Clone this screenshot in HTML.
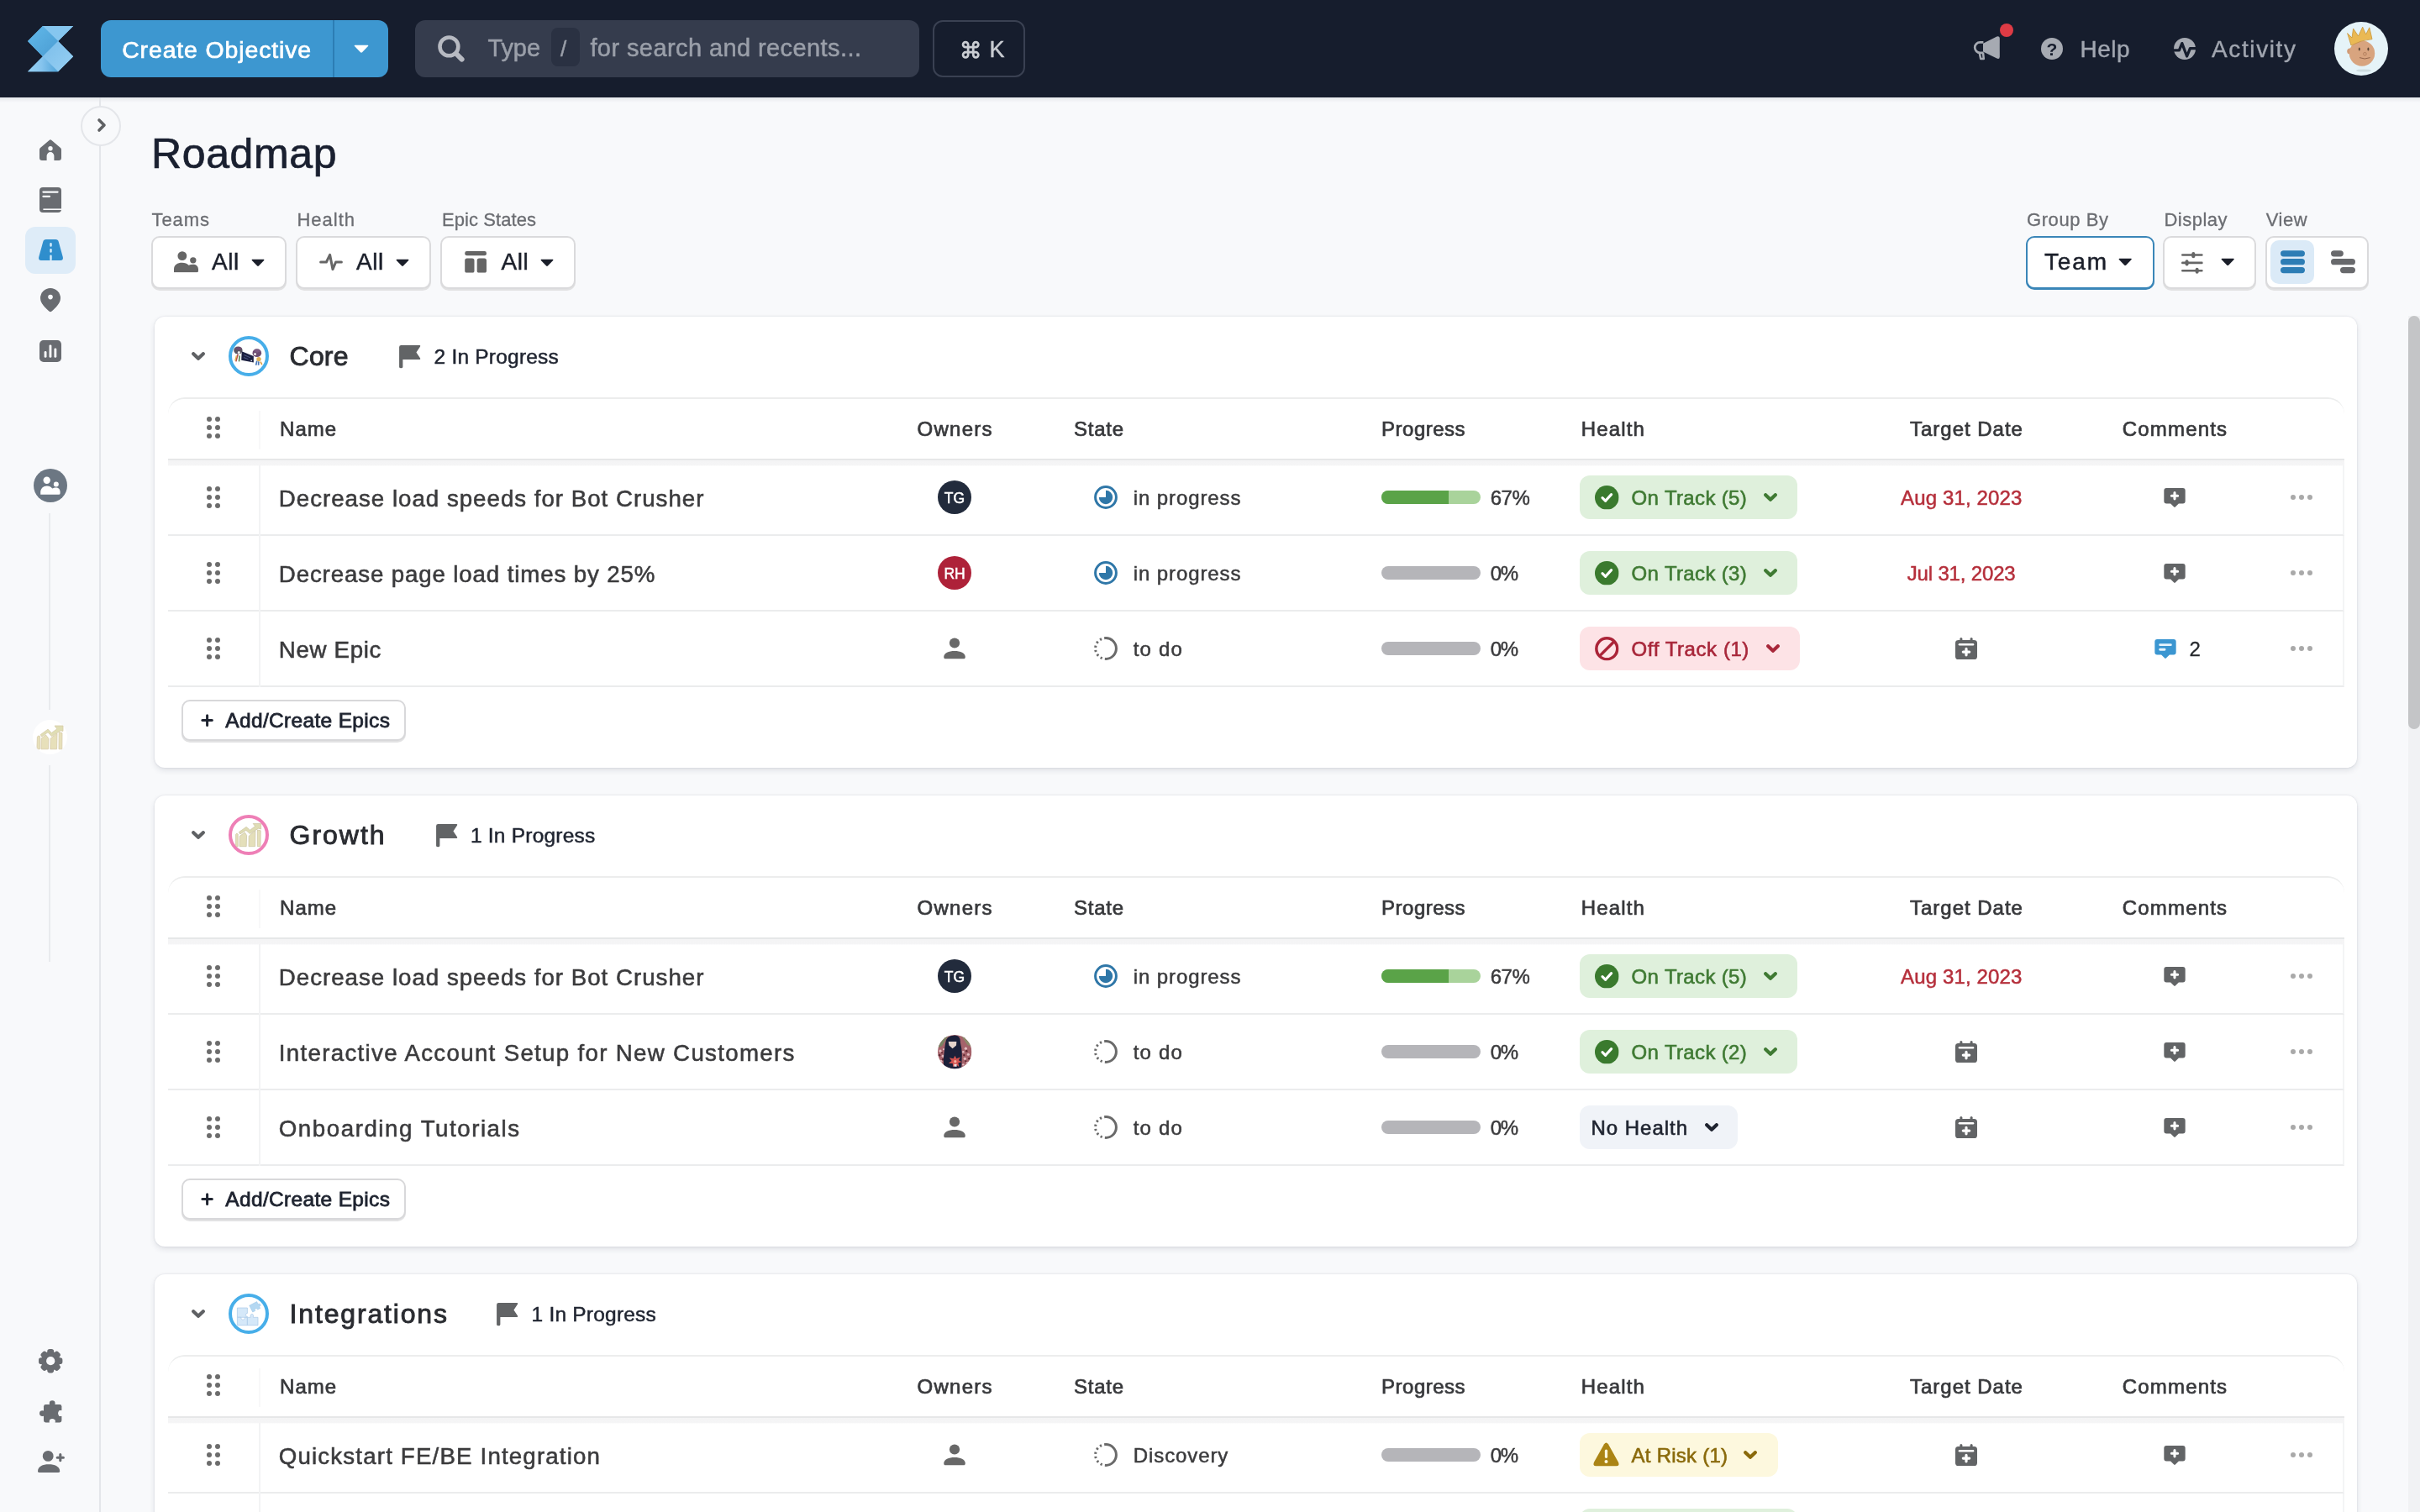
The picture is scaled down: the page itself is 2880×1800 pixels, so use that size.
<!DOCTYPE html>
<html lang="en"><head><meta charset="utf-8"><title>Roadmap | Shortcut</title>
<style>
*{box-sizing:border-box;margin:0;padding:0}
html,body{width:2880px;height:1800px;overflow:hidden;background:#f8f9fb;font-family:"Liberation Sans",sans-serif;color:#1f2430}
#root{position:absolute;left:0;top:0;width:2880px;height:1800px;overflow:hidden;will-change:transform}
.abs{position:absolute}
svg{display:block;position:absolute;overflow:visible}
.t{position:absolute;white-space:nowrap;line-height:1}
/* header */
#hdr{position:absolute;left:0;top:0;width:2880px;height:116px;background:#161d2d}
#hdrshadow{position:absolute;left:0;top:116px;width:2880px;height:6px;background:linear-gradient(#e6e8ec,rgba(248,249,251,0))}
#create{position:absolute;left:120px;top:24px;width:342px;height:68px;border-radius:12px;background:#3d97d0}
#create .div{position:absolute;left:276px;top:0;width:2px;height:68px;background:#2c7db4}
#search{position:absolute;left:494px;top:24px;width:600px;height:68px;border-radius:12px;background:#353c4d}
#slash{position:absolute;left:162px;top:9px;width:34px;height:46px;border-radius:8px;background:#2a3142}
#kbtn{position:absolute;left:1110px;top:24px;width:110px;height:68px;border-radius:12px;border:2px solid #3a4152}
/* sidebar */
#sideline{position:absolute;left:118px;top:116px;width:2px;height:1684px;background:#e4e6ea}
#navact{position:absolute;left:30px;top:270px;width:60px;height:56px;border-radius:12px;background:#deecf8}
#collapse{position:absolute;left:96px;top:126px;width:48px;height:48px;border-radius:50%;background:#f8f9fb;border:2px solid #e4e6ea}
.vline{position:absolute;left:58px;width:2px;background:#e9ebee}
/* filter buttons */
.fbtn{position:absolute;top:280.5px;height:63.3px;border-radius:10px;background:#fff;border:2px solid #dadadc;box-shadow:0 2px 0 #e1e1e2}
.fbtn.sel{border-color:#3a86b8;box-shadow:0 1px 0 #3a86b8}
/* cards */
.card{position:absolute;left:184px;width:2621px;height:537.5px;border-radius:12px;background:#fff;box-shadow:0 3px 7px rgba(40,50,70,.12),0 0 2.5px rgba(40,50,70,.12)}
.cin{position:absolute;left:0;top:0.5px}
.tbl{position:absolute;left:16px;top:96px;width:2590px}
.thead{position:absolute;left:0;top:0;width:2590px;height:75px;border-top:2px solid #eceded;border-radius:20px 20px 0 0}
.thshadow{position:absolute;left:0;top:73px;width:2590px;height:9px;background:linear-gradient(#e6e7e8 0,#e6e7e8 2.2px,#f4f4f5 2.2px,#f5f5f6 7.6px,rgba(255,255,255,0) 9px)}
.row{position:absolute;left:0;width:2590px;height:90px;border-bottom:2px solid #ebeced;border-right:2px solid #f3f4f5}
.vsep{position:absolute;left:108px;top:0;width:2px;background:#f2f3f4}
.addbtn{position:absolute;left:32px;top:456.2px;width:267px;height:48.6px;border-radius:10px;background:#fff;border:2px solid #d8d8da;box-shadow:0 2px 0 #e2e2e3}
.pill{position:absolute;left:1680px;top:19px;height:52px;border-radius:12px}
.pill.g{background:#dff0dc}
.pill.r{background:#fde3e6}
.pill.y{background:#fdf8de}
.pill.n{background:#f0f3f8}
.bar{position:absolute;left:1443px;top:38px;width:118px;height:16px;border-radius:8px;background:#b5b5b9;overflow:hidden}
.bar i{position:absolute;left:0;top:0;height:16px;background:#5aa348}
.bar.g{background:#a9d39b}
.av{position:absolute;left:915px;top:25px;width:40px;height:40px;border-radius:50%}
</style></head>
<body>
<div id="root">
<svg width="0" height="0" style="position:absolute;left:-10px;top:-10px">
<defs>
<linearGradient id="lgB" x1="0" y1="0" x2="1" y2="1"><stop offset="0" stop-color="#62b9ea"/><stop offset="1" stop-color="#4a9cd2"/></linearGradient>
<linearGradient id="lgD" x1="0" y1="0" x2="1" y2="0"><stop offset="0" stop-color="#96d0f3"/><stop offset=".45" stop-color="#86c4ee"/><stop offset="1" stop-color="#4fa3d8"/></linearGradient>
<linearGradient id="lgC" x1="0" y1="0" x2="1" y2="1"><stop offset="0" stop-color="#7bbdea"/><stop offset="1" stop-color="#97d0f3"/></linearGradient>
<!-- drag handle 16x26 -->
<symbol id="drag" viewBox="0 0 16 26"><g fill="#6c6c6c"><circle cx="3" cy="3" r="3"/><circle cx="13" cy="3" r="3"/><circle cx="3" cy="13" r="3"/><circle cx="13" cy="13" r="3"/><circle cx="3" cy="23" r="3"/><circle cx="13" cy="23" r="3"/></g></symbol>
<!-- ellipsis 26x6 -->
<symbol id="dots" viewBox="0 0 26 6"><g fill="#a9a9a9"><circle cx="3" cy="3" r="3"/><circle cx="13" cy="3" r="3"/><circle cx="23" cy="3" r="3"/></g></symbol>
<!-- chevron down 16x10 -->
<symbol id="chev" viewBox="0 0 16 10"><path d="M2.2 2.2 L8 7.8 L13.8 2.2" fill="none" stroke="currentColor" stroke-width="4.2" stroke-linecap="round" stroke-linejoin="round"/></symbol>
<!-- caret (triangle) 16x9 -->
<symbol id="caret" viewBox="0 0 16 9"><path d="M1.2 0.6 H14.8 Q16 0.8 15.2 1.9 L8.9 8.4 Q8 9.2 7.1 8.4 L0.8 1.9 Q0 0.8 1.2 0.6Z" fill="currentColor"/></symbol>
<!-- in progress state 28x28 -->
<symbol id="inprog" viewBox="0 0 28 28"><circle cx="14" cy="14" r="12.4" fill="#fff" stroke="#2f77a8" stroke-width="3"/><path d="M14 14 V5.8 A8.2 8.2 0 1 1 5.8 14 Z" fill="#2f77a8"/></symbol>
<!-- to do state 28x28 -->
<symbol id="todo" viewBox="0 0 28 28"><path d="M14 1.6 A12.4 12.4 0 0 1 14 26.4" fill="none" stroke="#6a6a6a" stroke-width="3" stroke-linecap="butt"/><path d="M14 26.4 A12.4 12.4 0 0 1 14 1.6" fill="none" stroke="#6a6a6a" stroke-width="3" stroke-dasharray="2.2 3.2" stroke-dashoffset="1"/></symbol>
<!-- person 26x26 -->
<symbol id="person" viewBox="0 0 26 26"><circle cx="13" cy="6.6" r="6.2" fill="#686868"/><path d="M0 23.4 C0 18.6 6 16.2 13 16.2 s13 2.4 13 7.2 Q26 26 23.4 26 H2.6 Q0 26 0 23.4Z" fill="#686868"/></symbol>
<!-- check circle 28x28 -->
<symbol id="check" viewBox="0 0 28 28"><circle cx="14" cy="14" r="14" fill="#3a7a2e"/><path d="M8.8 14.4 L12.4 17.9 L19.2 10.4" fill="none" stroke="#fff" stroke-width="3.1" stroke-linecap="round" stroke-linejoin="round"/></symbol>
<!-- ban 28x28 -->
<symbol id="ban" viewBox="0 0 28 28"><circle cx="14" cy="14" r="12.2" fill="none" stroke="#ab2438" stroke-width="3.4"/><path d="M5.6 22.4 L22.4 5.6" stroke="#ab2438" stroke-width="3.4"/></symbol>
<!-- warning 30x28 -->
<symbol id="warn" viewBox="0 0 30 28"><path d="M12.6 2.2 Q15 -1.4 17.4 2.2 L29.2 23.2 Q31 27.6 26.6 27.8 H3.4 Q-1 27.6 0.8 23.2 Z" fill="#ab8414"/><rect x="13.4" y="8.4" width="3.2" height="10.2" rx="1.6" fill="#fdf8de"/><circle cx="15" cy="22.6" r="2" fill="#fdf8de"/></symbol>
<!-- comment plus 26x24 -->
<symbol id="cplus" viewBox="0 0 26 24"><path d="M3 0 H23 a3 3 0 0 1 3 3 V16 a3 3 0 0 1 -3 3 H18 L13.8 23.2 Q13 24 12.2 23.2 L8 19 H3 a3 3 0 0 1 -3 -3 V3 a3 3 0 0 1 3 -3 Z" fill="#626466"/><path d="M13 5.8 V13.2 M9.3 9.5 H16.7" stroke="#fff" stroke-width="3.2" stroke-linecap="round"/></symbol>
<!-- comment lines (blue) 26x24 -->
<symbol id="clines" viewBox="0 0 26 24"><path d="M3 0 H23 a3 3 0 0 1 3 3 V16 a3 3 0 0 1 -3 3 H18 L13.8 23.2 Q13 24 12.2 23.2 L8 19 H3 a3 3 0 0 1 -3 -3 V3 a3 3 0 0 1 3 -3 Z" fill="#3b96d1"/><path d="M6.5 6.8 H19.5 M6.5 12.6 H12" stroke="#e6f4fd" stroke-width="3" stroke-linecap="round"/></symbol>
<!-- calendar plus 26x26 -->
<symbol id="cal" viewBox="0 0 26 26"><rect x="5.4" y="0" width="3" height="6" rx="1.5" fill="#626466"/><rect x="17.6" y="0" width="3" height="6" rx="1.5" fill="#626466"/><rect x="0" y="3" width="26" height="23" rx="3.6" fill="#626466"/><path d="M5 8.2 H21" stroke="#fff" stroke-width="2.6" stroke-linecap="round"/><path d="M13 13.4 V20.8 M9.3 17.1 H16.7" stroke="#fff" stroke-width="3.2" stroke-linecap="round"/></symbol>
<!-- flag 26x28 -->
<symbol id="flag" viewBox="0 0 26 28"><path d="M0 2.4 Q0 0 2.4 0 H24.6 Q26.6 0 25.4 1.8 L20.8 8.6 L25.4 15.6 Q26.6 17.4 24.6 17.4 H4.4 V26.4 Q4.4 28 2.2 28 Q0 28 0 26.4 Z" fill="#626466"/></symbol>
<!-- people (teams filter) 30x26 -->
<symbol id="people" viewBox="0 0 30 26"><circle cx="10.2" cy="5.6" r="5.6" fill="#666"/><circle cx="23.6" cy="11" r="3.8" fill="#666"/><path d="M0 26 V22 C0 16.6 4.4 14 10 14 c3.6 0 6.4 1 8.2 3 C19.6 16.4 21.4 16 23.4 16 C27.2 16 30 18 30 22 V24 a2 2 0 0 1 -2 2 Z" fill="#666"/></symbol>
<!-- pulse 28x22 -->
<symbol id="pulse" viewBox="0 0 28 22"><path d="M1.6 11 H8.4 L12.6 2.4 L16 19.6 L19.6 11 H26.4" fill="none" stroke="#666" stroke-width="3" stroke-linecap="round" stroke-linejoin="round"/></symbol>
<!-- columns 26x26 -->
<symbol id="cols" viewBox="0 0 26 26"><rect x="0" y="0" width="26" height="5.4" rx="2.4" fill="#666"/><rect x="0" y="8.6" width="11.4" height="17.4" rx="2.6" fill="#666"/><rect x="14.6" y="8.6" width="11.4" height="17.4" rx="2.6" fill="#666"/></symbol>
<!-- sliders 26x26 -->
<symbol id="sliders" viewBox="0 0 26 26"><g stroke="#666" stroke-width="2.6" stroke-linecap="round"><path d="M1.3 3.6 H24.7 M1.3 13 H24.7 M1.3 22.4 H24.7"/></g><g fill="#666"><rect x="12.4" y="0" width="4" height="7.2" rx="2"/><rect x="4.6" y="9.4" width="4" height="7.2" rx="2"/><rect x="16.8" y="18.8" width="4" height="7.2" rx="2"/></g></symbol>
<!-- list view 30x30 -->
<symbol id="vlist" viewBox="0 0 30 30"><g fill="#2d7db5"><rect x="0" y="1" width="30" height="7.6" rx="3.8"/><rect x="0" y="11.2" width="30" height="7.6" rx="3.8"/><rect x="0" y="21.4" width="30" height="7.6" rx="3.8"/></g></symbol>
<!-- timeline view 30x30 -->
<symbol id="vtime" viewBox="0 0 30 30"><g fill="#68696c"><rect x="0" y="1" width="15.4" height="7.6" rx="3.8"/><rect x="0" y="11.2" width="30" height="7.6" rx="3.8"/><rect x="11.4" y="21.4" width="18.6" height="7.6" rx="3.8"/></g></symbol>
</defs>
</svg>
<div id="hdr"><svg style="left:32.6px;top:30.8px" width="54.2" height="54.2" viewBox="0 0 54 54"><polygon points="17.8,0 54,0 36,18 54,36 36,54 0,54 17.8,36 0,18" fill="#6fb8e8"/><polygon points="17.8,0 54,0 36,18" fill="#86c6ef"/><polygon points="17.8,0 0,18 17.8,36 36,18" fill="url(#lgB)"/><polygon points="36,18 17.8,36 36,54 54,36" fill="url(#lgC)"/><polygon points="17.8,36 0,54 36,54" fill="url(#lgD)"/></svg><div id="create"><div class="div"></div><svg style="left:301.0px;top:28.6px;color:#fff;" width="18" height="10"><use href="#caret"/></svg></div><div class="t " style="left:145.2px;top:45.4px;font-size:28.4px;color:#fff;letter-spacing:0.90px;-webkit-text-stroke:0.7px #fff;">Create Objective</div><div id="search"><div id="slash"></div><svg style="left:27.4px;top:17.6px" width="33" height="33" viewBox="0 0 33 33"><circle cx="13.4" cy="13.4" r="10.9" fill="none" stroke="#b7bac2" stroke-width="4.6"/><path d="M22 22 L28.6 28.6" stroke="#b7bac2" stroke-width="6" stroke-linecap="round"/></svg></div><div class="t " style="left:580.5px;top:43.0px;font-size:29px;color:#9a9fa9;letter-spacing:-0.12px;-webkit-text-stroke:0.5px #9a9fa9;">Type</div><div class="t " style="left:667.0px;top:44.5px;font-size:26px;color:#9a9fa9;-webkit-text-stroke:0.5px #9a9fa9;">/</div><div class="t " style="left:702.4px;top:43.0px;font-size:29px;color:#9a9fa9;letter-spacing:0.41px;-webkit-text-stroke:0.5px #9a9fa9;">for search and recents...</div><div id="kbtn"></div><svg style="left:1143.2px;top:46.8px" width="24.4" height="24.4" viewBox="0 0 24 24"><path d="M9 9 V6 a3 3 0 1 0 -3 3 H18 a3 3 0 1 0 -3 -3 V18 a3 3 0 1 0 3 -3 H6 a3 3 0 1 0 3 3 Z" fill="none" stroke="#c9ccd2" stroke-width="2.7"/></svg><div class="t " style="left:1177.4px;top:45.7px;font-size:27px;color:#c9ccd2;-webkit-text-stroke:0.4px #c9ccd2;">K</div><svg style="left:2348.6px;top:43.4px" width="31.4" height="29" viewBox="0 0 31.4 29"><path d="M11 8.8 L27.4 0.6 Q30.8 -0.8 30.8 2.8 V24.4 Q30.8 28 27.4 26.6 L11 18.6 Z" fill="#a6aab2"/><path d="M11.4 7.4 H7.4 A6.1 6.1 0 0 0 7.4 19.8 H11.4" fill="none" stroke="#a6aab2" stroke-width="2.7"/><path d="M6.6 19.6 L8.2 27 H11.8 L11 19.6" fill="none" stroke="#a6aab2" stroke-width="2.5" stroke-linejoin="round"/></svg><div class="abs" style="left:2380px;top:28px;width:16.4px;height:16.4px;border-radius:50%;background:#de3b45"></div><svg style="left:2429px;top:44.8px" width="26" height="26" viewBox="0 0 26 26"><circle cx="13" cy="13" r="13" fill="#a6aab2"/><text x="13" y="20.6" text-anchor="middle" font-family="Liberation Sans, sans-serif" font-weight="bold" font-size="21" fill="#161d2d">?</text></svg><div class="t " style="left:2475.6px;top:44.9px;font-size:28px;color:#a1a6b0;letter-spacing:0.47px;-webkit-text-stroke:0.4px #a1a6b0;">Help</div><svg style="left:2587px;top:44.8px" width="26" height="26" viewBox="0 0 26 26"><circle cx="13" cy="13" r="13" fill="#a6aab2"/><path d="M-0.5 14.8 H6.4 L9.8 6.6 L15.6 22 L19.4 12.6 H26.5" fill="none" stroke="#161d2d" stroke-width="3.3" stroke-linejoin="round"/></svg><div class="t " style="left:2632.0px;top:44.6px;font-size:28px;color:#a1a6b0;letter-spacing:1.62px;-webkit-text-stroke:0.4px #a1a6b0;">Activity</div><svg style="left:2778px;top:25.6px" width="64" height="64" viewBox="0 0 64 64"><circle cx="32" cy="32" r="32" fill="#e5f3f8"/><ellipse cx="35" cy="58" rx="9" ry="1.6" fill="#cddcdf"/><circle cx="18.6" cy="35" r="3.4" fill="#d09a76"/><ellipse cx="33" cy="37.6" rx="15.2" ry="15.2" fill="#d8a47f"/><path d="M20 28 L15.6 13.6 L21 19 L22.6 8 L28.6 17 L33.7 6.2 L37.6 15 L41.8 6.8 L45 20.6 Q32 21.6 20 28 Z" fill="#eab954" stroke="#c9953a" stroke-width="0.8" stroke-linejoin="round"/><ellipse cx="29.8" cy="32.6" rx="1" ry="2" fill="#5a4334"/><ellipse cx="40.4" cy="32.4" rx="1" ry="2" fill="#5a4334"/><circle cx="36.4" cy="38.2" r="1.8" fill="none" stroke="#a87453" stroke-width="0.8"/><path d="M30 42.6 Q36 45.4 42.6 42.6" fill="none" stroke="#8c5e44" stroke-width="0.9"/></svg></div><div id="hdrshadow"></div><div id="sideline"></div><div id="navact"></div><div class="vline" style="top:611px;height:234px"></div><div class="vline" style="top:911px;height:234px"></div><div id="collapse"></div><svg style="left:115.6px;top:141.4px" width="10" height="16" viewBox="0 0 10 16"><path d="M2 2 L8 8 L2 14" fill="none" stroke="#5f6164" stroke-width="3.6" stroke-linecap="round" stroke-linejoin="round"/></svg><svg style="left:47px;top:165.8px" width="26" height="25.2" viewBox="0 0 26 25"><path d="M11.6 0.8 Q13 -0.4 14.4 0.8 L25 10 Q26 11 26 12.4 V22 a3 3 0 0 1 -3 3 H17.4 V19.4 a4.4 4.4 0 0 0 -8.8 0 V25 H3 a3 3 0 0 1 -3 -3 V12.4 Q0 11 1 10 Z" fill="#696c71"/><circle cx="13" cy="10.6" r="2.7" fill="#f8f9fb"/></svg><svg style="left:47px;top:223px" width="26" height="30" viewBox="0 0 26 30"><rect x="0" y="0" width="26" height="30" rx="4" fill="#696c71"/><path d="M4.4 5.6 H21.6 M4.4 10.8 H12" stroke="#f8f9fb" stroke-width="2.2" stroke-linecap="round"/><path d="M26 26.2 H4.4" stroke="#f8f9fb" stroke-width="1.6"/></svg><svg style="left:45.6px;top:284.8px" width="29" height="25.2" viewBox="0 0 29 25"><path d="M8.8 0 H20.2 Q23 0 23.8 2.8 L28.8 21 Q29.6 25 26 25 H3 Q-0.6 25 0.2 21 L5.2 2.8 Q6 0 8.8 0Z" fill="#2f8ecd"/><g fill="#d6edfb"><rect x="13.3" y="4" width="2.4" height="4.6" rx="1.2"/><rect x="13.3" y="11" width="2.4" height="4.6" rx="1.2"/><rect x="13.3" y="18.4" width="2.4" height="6.6" rx="1.2"/></g></svg><svg style="left:48px;top:343px" width="24" height="28.4" viewBox="0 0 24 28.4"><path d="M12 0 A12 12 0 0 1 24 12 C24 18 18 23.6 13.6 27.6 Q12 29 10.4 27.6 C6 23.6 0 18 0 12 A12 12 0 0 1 12 0Z" fill="#696c71"/><circle cx="12" cy="10.6" r="2.8" fill="#f8f9fb"/></svg><svg style="left:47px;top:405px" width="26" height="26" viewBox="0 0 26 26"><rect width="26" height="26" rx="4.8" fill="#696c71"/><g fill="#f8f9fb"><rect x="5.6" y="13" width="2.9" height="7.8" rx="1.4"/><rect x="11.5" y="5.4" width="2.9" height="15.4" rx="1.4"/><rect x="17.4" y="9.4" width="2.9" height="11.4" rx="1.4"/></g></svg><svg style="left:40px;top:557.8px" width="40" height="40" viewBox="0 0 40 40"><circle cx="20" cy="20" r="20" fill="#6c7783"/><g fill="#fff"><circle cx="15.7" cy="13.8" r="4.2"/><circle cx="26.8" cy="18.6" r="3"/><path d="M8.2 30.8 V28 C8.2 23.4 11.6 20.4 15.8 20.4 c2.8 0 5 1.2 6.4 3.2 C23.4 22.8 25 22.4 26.6 22.4 C29.4 22.4 31.6 24.2 31.6 27.6 V29.2 a1.6 1.6 0 0 1 -1.6 1.6 Z"/></g></svg><svg style="left:39px;top:857px" width="41" height="41" viewBox="0 0 41 41"><circle cx="20.5" cy="20.5" r="20.5" fill="#fff"/><g fill="#e7e0ba" stroke="#d7cca9" stroke-width="0.8" stroke-linejoin="round"><path d="M5.4 20.4 Q5.6 19 7.4 19 L8.6 19.6 V34.8 H6.2 Q5 34 5 32 Z"/><path d="M10.2 22 L15.4 17.8 L19 22.4 L18.4 34.8 H10 Z"/><path d="M21.2 22 L29 16.2 L28.6 34.8 H20.8 Z"/><path d="M31.2 14.6 L35 15.6 L34.8 34.8 H31 Z"/><path d="M9.2 17.6 L18 11.2 L22.4 15.4 L28.8 10.8 L26 7 H36 V13.4 L33.2 12.8 L22.6 19.6 L18 14.8 L10.6 20 Z" fill="#e0deb4"/></g></svg><svg style="left:45.8px;top:1605.8px" width="28.4" height="28.4" viewBox="-14.2 -14.2 28.4 28.4"><g fill="#696c71"><circle r="11.3"/><rect x="-3.9" y="-14.2" width="7.8" height="8" rx="2.8" transform="rotate(0)"/><rect x="-3.9" y="-14.2" width="7.8" height="8" rx="2.8" transform="rotate(45)"/><rect x="-3.9" y="-14.2" width="7.8" height="8" rx="2.8" transform="rotate(90)"/><rect x="-3.9" y="-14.2" width="7.8" height="8" rx="2.8" transform="rotate(135)"/><rect x="-3.9" y="-14.2" width="7.8" height="8" rx="2.8" transform="rotate(180)"/><rect x="-3.9" y="-14.2" width="7.8" height="8" rx="2.8" transform="rotate(225)"/><rect x="-3.9" y="-14.2" width="7.8" height="8" rx="2.8" transform="rotate(270)"/><rect x="-3.9" y="-14.2" width="7.8" height="8" rx="2.8" transform="rotate(315)"/></g><circle r="5.1" fill="#f8f9fb"/></svg><svg style="left:47px;top:1666.8px" width="26.4" height="26.4" viewBox="0 0 26.4 26.4"><g fill="#696c71"><rect x="5" y="5" width="21.4" height="21.4" rx="2.4"/><circle cx="15.2" cy="3.6" r="3.4"/><rect x="12.6" y="2.6" width="5.2" height="4"/><circle cx="3.4" cy="15.6" r="3.4"/><rect x="2.6" y="13" width="4" height="5.2"/></g><g fill="#f8f9fb"><circle cx="25.6" cy="15.6" r="3.5"/><rect x="23" y="12.4" width="3.4" height="6.4"/><circle cx="15.2" cy="25.4" r="3.5"/><rect x="12" y="23" width="6.4" height="3.4"/></g></svg><svg style="left:44.6px;top:1727px" width="32" height="26" viewBox="0 0 32 26"><g fill="#696c71"><circle cx="12.2" cy="6.4" r="6.4"/><path d="M0 24.4 C0 18.8 5.8 16.2 13 16.2 S26.2 18.8 26.2 24.4 Q26.2 26 24.2 26 H2 Q0 26 0 24.4Z"/></g><path d="M26.8 4.6 V11.8 M23.2 8.2 H30.4" stroke="#696c71" stroke-width="3.1" stroke-linecap="round"/></svg><div class="t " style="left:180.0px;top:157.9px;font-size:50px;color:#1a2030;letter-spacing:0.63px;-webkit-text-stroke:0.7px #1a2030;">Roadmap</div><div class="t " style="left:180.5px;top:250.6px;font-size:22px;color:#6b6d72;letter-spacing:0.93px;-webkit-text-stroke:0.3px #6b6d72;">Teams</div><div class="t " style="left:353.5px;top:250.6px;font-size:22px;color:#6b6d72;letter-spacing:0.98px;-webkit-text-stroke:0.3px #6b6d72;">Health</div><div class="t " style="left:526.0px;top:250.6px;font-size:22px;color:#6b6d72;letter-spacing:0.07px;-webkit-text-stroke:0.3px #6b6d72;">Epic States</div><div class="t " style="left:2412.0px;top:251.4px;font-size:22px;color:#6b6d72;letter-spacing:0.58px;-webkit-text-stroke:0.3px #6b6d72;">Group By</div><div class="t " style="left:2575.5px;top:251.4px;font-size:22px;color:#6b6d72;letter-spacing:0.48px;-webkit-text-stroke:0.3px #6b6d72;">Display</div><div class="t " style="left:2696.7px;top:251.4px;font-size:22px;color:#6b6d72;letter-spacing:0.57px;-webkit-text-stroke:0.3px #6b6d72;">View</div><div class="fbtn" style="left:180.2px;width:161px"></div><div class="fbtn" style="left:352.4px;width:161px"></div><div class="fbtn" style="left:524.4px;width:161px"></div><svg style="left:207.0px;top:299.0px;" width="29" height="25.6"><use href="#people"/></svg><svg style="left:380.0px;top:301.0px;" width="28" height="22"><use href="#pulse"/></svg><svg style="left:552.8px;top:299.0px;" width="26.2" height="25.8"><use href="#cols"/></svg><div class="t " style="left:252.0px;top:297.8px;font-size:28px;color:#1b1f2a;letter-spacing:0.54px;-webkit-text-stroke:0.5px #1b1f2a;">All</div><div class="t " style="left:424.0px;top:297.8px;font-size:28px;color:#1b1f2a;letter-spacing:0.54px;-webkit-text-stroke:0.5px #1b1f2a;">All</div><div class="t " style="left:596.6px;top:297.8px;font-size:28px;color:#1b1f2a;letter-spacing:0.54px;-webkit-text-stroke:0.5px #1b1f2a;">All</div><svg style="left:299.0px;top:307.6px;color:#1b1f2a;" width="16" height="9.2"><use href="#caret"/></svg><svg style="left:471.0px;top:307.6px;color:#1b1f2a;" width="16" height="9.2"><use href="#caret"/></svg><svg style="left:643.0px;top:307.6px;color:#1b1f2a;" width="16" height="9.2"><use href="#caret"/></svg><div class="fbtn sel" style="left:2410.8px;width:153px"></div><div class="t " style="left:2433.0px;top:297.5px;font-size:28px;color:#1b1f2a;letter-spacing:1.84px;-webkit-text-stroke:0.5px #1b1f2a;">Team</div><svg style="left:2521.0px;top:307.2px;color:#1b1f2a;" width="16.4" height="9.4"><use href="#caret"/></svg><div class="fbtn" style="left:2574.2px;width:111.2px"></div><svg style="left:2596.0px;top:298.6px;" width="25.8" height="27.8"><use href="#sliders"/></svg><svg style="left:2643.0px;top:307.2px;color:#1b1f2a;" width="16.4" height="9.4"><use href="#caret"/></svg><div class="fbtn" style="left:2696px;width:123.4px"></div><div class="abs" style="left:2702px;top:286.4px;width:52px;height:52px;border-radius:10px;background:#dbeaf7"></div><svg style="left:2713.6px;top:297.4px;" width="29" height="29.4"><use href="#vlist"/></svg><svg style="left:2773.6px;top:297.4px;" width="29" height="29.4"><use href="#vtime"/></svg><div class="abs" style="left:2866px;top:376px;width:14px;height:1424px;background:#f1f2f4"></div><div class="abs" style="left:2866px;top:376px;width:14px;height:492px;background:#c4c5c7;border-radius:7px"></div><div class="card" style="top:376.5px"><div class="cin"><svg style="left:44.0px;top:42.2px;color:#5f6164;" width="16" height="10"><use href="#chev"/></svg><svg style="left:88px;top:22.6px" width="48" height="48" viewBox="0 0 48 48"><circle cx="24" cy="24" r="22" fill="#fff" stroke="#47aee9" stroke-width="4"/><ellipse cx="11.4" cy="17" rx="5.2" ry="4.5" fill="#5a5561"/><path d="M7.4 15.4 Q11 11.4 15.8 14.4 L13 17 Z" fill="#6f4a70"/><ellipse cx="33.8" cy="20.2" rx="5.3" ry="4.9" fill="#6c4c70"/><path d="M30 17.6 Q34 14 38.6 18 L34 20 Z" fill="#7d5a82"/><polygon points="15.7,18.2 29.8,24 29.8,31.6 15.2,28.8" fill="#1c2141"/><circle cx="12.3" cy="19.5" r="1.5" fill="#f1efee"/><circle cx="31.5" cy="21.5" r="1.5" fill="#f1efee"/><path d="M11 22 L8.8 30.4" stroke="#b9524c" stroke-width="1.7"/><path d="M9.4 23.4 L7.8 29.4" stroke="#e2b244" stroke-width="1.3"/><path d="M13.2 23.4 L12.5 30.4" stroke="#5f8a58" stroke-width="1.7"/><circle cx="36" cy="27.6" r="2.7" fill="#e0b152"/><path d="M33.8 29.6 L32.6 34.8 M35.8 30.4 L35.6 34.8" stroke="#4a78b8" stroke-width="1.7"/><path d="M38 30.6 L39.8 34.2" stroke="#d99a3a" stroke-width="1.5"/><path d="M18.4 22.6 L26 25.8 M18 25.6 L23.4 27.6" stroke="#55618f" stroke-width="0.9"/><circle cx="27.2" cy="29.4" r="0.8" fill="#dfe6f5"/></svg><div class="t " style="left:160.6px;top:30.9px;font-size:32px;color:#2a2c31;letter-spacing:0.18px;-webkit-text-stroke:0.9px #2a2c31;">Core</div><svg style="left:291.4px;top:34.2px;" width="25.6" height="27.4"><use href="#flag"/></svg><div class="t " style="left:332.6px;top:35.5px;font-size:24.5px;color:#1f2430;letter-spacing:0.21px;-webkit-text-stroke:0.5px #1f2430;">2 In Progress</div><div class="tbl"><div class="thead"></div><div class="row" style="top:75px"></div><div class="row" style="top:165px"></div><div class="row" style="top:255px"></div><div class="vsep" style="top:75px;height:270px"></div><div class="vsep" style="top:16px;height:46px;background:#f8f8f9"></div><div class="thshadow"></div></div><svg style="left:62.0px;top:119.0px;" width="16" height="26"><use href="#drag"/></svg><div class="t " style="left:149.0px;top:121.5px;font-size:24px;color:#37383b;letter-spacing:1.06px;-webkit-text-stroke:0.7px #37383b;">Name</div><div class="t " style="left:907.5px;top:121.5px;font-size:24px;color:#37383b;letter-spacing:1.26px;-webkit-text-stroke:0.7px #37383b;">Owners</div><div class="t " style="left:1094.0px;top:121.5px;font-size:24px;color:#37383b;letter-spacing:0.74px;-webkit-text-stroke:0.7px #37383b;">State</div><div class="t " style="left:1460.0px;top:121.5px;font-size:24px;color:#37383b;letter-spacing:0.51px;-webkit-text-stroke:0.7px #37383b;">Progress</div><div class="t " style="left:1697.7px;top:121.5px;font-size:24px;color:#37383b;letter-spacing:1.16px;-webkit-text-stroke:0.7px #37383b;">Health</div><div class="t " style="left:2089.0px;top:121.5px;font-size:24px;color:#37383b;letter-spacing:0.99px;-webkit-text-stroke:0.7px #37383b;">Target Date</div><div class="t " style="left:2341.8px;top:121.5px;font-size:24px;color:#37383b;letter-spacing:1.17px;-webkit-text-stroke:0.7px #37383b;">Comments</div><svg style="left:62.0px;top:202.0px;" width="16" height="26"><use href="#drag"/></svg><div class="t " style="left:147.8px;top:202.5px;font-size:27.7px;color:#3b3b3d;letter-spacing:0.99px;-webkit-text-stroke:0.55px #3b3b3d;">Decrease load speeds for Bot Crusher</div><div class="abs" style="left:931.8px;top:194.8px;width:40.4px;height:40.4px;border-radius:50%;background:#222b3c"></div><div class="t " style="left:939.8px;top:207.6px;font-size:17.5px;color:#fff;-webkit-text-stroke:0.5px #fff;">TG</div><svg style="left:1118.0px;top:201.0px;" width="28" height="28"><use href="#inprog"/></svg><div class="t " style="left:1164.8px;top:203.7px;font-size:24px;color:#3b3b3d;letter-spacing:0.89px;-webkit-text-stroke:0.5px #3b3b3d;">in progress</div><div class="bar g" style="left:1460.2px;top:206.8px"><i style="width:79.5px"></i></div><div class="t " style="left:1589.8px;top:204.1px;font-size:24px;color:#3b3b3d;letter-spacing:-0.52px;-webkit-text-stroke:0.5px #3b3b3d;">67%</div><div class="pill g" style="left:1696px;top:189px;width:259px"></div><svg style="left:1713.6px;top:200.8px;" width="28.6" height="28.6"><use href="#check"/></svg><div class="t " style="left:1757.6px;top:203.7px;font-size:24px;color:#3f7a33;letter-spacing:0.35px;-webkit-text-stroke:0.6px #3f7a33;">On Track (5)</div><svg style="left:1915.0px;top:210.4px;color:#3f7a33;" width="16" height="10"><use href="#chev"/></svg><div class="t " style="left:2078.0px;top:203.7px;font-size:24px;color:#b52f3b;letter-spacing:0.15px;-webkit-text-stroke:0.5px #b52f3b;">Aug 31, 2023</div><svg style="left:2391.4px;top:203.6px;" width="26" height="23.4"><use href="#cplus"/></svg><svg style="left:2542.0px;top:212.0px;" width="26" height="6"><use href="#dots"/></svg><svg style="left:62.0px;top:292.0px;" width="16" height="26"><use href="#drag"/></svg><div class="t " style="left:147.8px;top:292.5px;font-size:27.7px;color:#3b3b3d;letter-spacing:0.86px;-webkit-text-stroke:0.55px #3b3b3d;">Decrease page load times by 25%</div><div class="abs" style="left:931.8px;top:284.8px;width:40.4px;height:40.4px;border-radius:50%;background:#ae2239"></div><div class="t " style="left:939.4px;top:297.6px;font-size:17.5px;color:#fff;-webkit-text-stroke:0.5px #fff;">RH</div><svg style="left:1118.0px;top:291.0px;" width="28" height="28"><use href="#inprog"/></svg><div class="t " style="left:1164.8px;top:293.7px;font-size:24px;color:#3b3b3d;letter-spacing:0.89px;-webkit-text-stroke:0.5px #3b3b3d;">in progress</div><div class="bar" style="left:1460.2px;top:296.8px"></div><div class="t " style="left:1589.8px;top:294.1px;font-size:24px;color:#3b3b3d;letter-spacing:-1.29px;-webkit-text-stroke:0.5px #3b3b3d;">0%</div><div class="pill g" style="left:1696px;top:279px;width:259px"></div><svg style="left:1713.6px;top:290.8px;" width="28.6" height="28.6"><use href="#check"/></svg><div class="t " style="left:1757.6px;top:293.7px;font-size:24px;color:#3f7a33;letter-spacing:0.35px;-webkit-text-stroke:0.6px #3f7a33;">On Track (3)</div><svg style="left:1915.0px;top:300.4px;color:#3f7a33;" width="16" height="10"><use href="#chev"/></svg><div class="t " style="left:2085.7px;top:293.7px;font-size:24px;color:#b52f3b;letter-spacing:-0.16px;-webkit-text-stroke:0.5px #b52f3b;">Jul 31, 2023</div><svg style="left:2391.4px;top:293.6px;" width="26" height="23.4"><use href="#cplus"/></svg><svg style="left:2542.0px;top:302.0px;" width="26" height="6"><use href="#dots"/></svg><svg style="left:62.0px;top:382.0px;" width="16" height="26"><use href="#drag"/></svg><div class="t " style="left:147.8px;top:382.5px;font-size:27.7px;color:#3b3b3d;letter-spacing:0.66px;-webkit-text-stroke:0.55px #3b3b3d;">New Epic</div><svg style="left:939.0px;top:382.4px;" width="26" height="25.6"><use href="#person"/></svg><svg style="left:1118.0px;top:381.0px;" width="28" height="28"><use href="#todo"/></svg><div class="t " style="left:1164.8px;top:383.7px;font-size:24px;color:#3b3b3d;letter-spacing:1.15px;-webkit-text-stroke:0.5px #3b3b3d;">to do</div><div class="bar" style="left:1460.2px;top:386.8px"></div><div class="t " style="left:1589.8px;top:384.1px;font-size:24px;color:#3b3b3d;letter-spacing:-1.29px;-webkit-text-stroke:0.5px #3b3b3d;">0%</div><div class="pill r" style="left:1696px;top:369px;width:262px"></div><svg style="left:1713.6px;top:380.8px;" width="28.6" height="28.6"><use href="#ban"/></svg><div class="t " style="left:1757.6px;top:383.7px;font-size:24px;color:#a8273a;letter-spacing:0.57px;-webkit-text-stroke:0.6px #a8273a;">Off Track (1)</div><svg style="left:1918.0px;top:390.4px;color:#a8273a;" width="16" height="10"><use href="#chev"/></svg><svg style="left:2143.0px;top:382.0px;" width="26" height="26"><use href="#cal"/></svg><svg style="left:2380.0px;top:383.6px;" width="26" height="23.4"><use href="#clines"/></svg><div class="t " style="left:2421.5px;top:383.9px;font-size:24px;color:#26282c;-webkit-text-stroke:0.3px #26282c;">2</div><svg style="left:2542.0px;top:392.0px;" width="26" height="6"><use href="#dots"/></svg><div class="addbtn"></div><svg style="left:56.4px;top:474.2px" width="13.2" height="13.2" viewBox="0 0 13.2 13.2"><path d="M6.6 0.8 V12.4 M0.8 6.6 H12.4" stroke="#1f2430" stroke-width="3" stroke-linecap="round"/></svg><div class="t " style="left:84.3px;top:468.9px;font-size:24.5px;color:#1f2430;letter-spacing:0.33px;-webkit-text-stroke:0.8px #1f2430;">Add/Create Epics</div></div></div><div class="card" style="top:946.5px"><div class="cin"><svg style="left:44.0px;top:42.2px;color:#5f6164;" width="16" height="10"><use href="#chev"/></svg><svg style="left:88px;top:22.6px" width="48" height="48" viewBox="0 0 48 48"><circle cx="24" cy="24" r="22" fill="#fff" stroke="#ee7fb6" stroke-width="4"/><defs><clipPath id="cpg"><circle cx="24" cy="24" r="20.2"/></clipPath></defs><g clip-path="url(#cpg)" fill="#e4dfba" stroke="#cbc4a2" stroke-width="0.7" stroke-linejoin="round"><path d="M8.6 23.4 Q8.8 22.2 10.4 22.4 L11.2 23 V37.7 H8.6 Z"/><path d="M13.2 25.4 L19.3 21 L21.6 24.4 L21.2 37.7 H13 Z"/><path d="M24.2 25.2 L31.9 18.9 L31.6 37.7 H24 Z"/><path d="M34.4 18 L38.2 18.8 L38 37.7 H34.4 Z"/><path d="M12.4 20.6 L21.1 14.4 L25.6 18.2 L31.6 13.6 L29.2 10.5 H38.6 V17 L35.6 16.2 L25.4 22.6 L20.8 18.4 L13.8 23 Z" fill="#dfdcb4"/></g></svg><div class="t " style="left:160.6px;top:30.9px;font-size:32px;color:#2a2c31;letter-spacing:1.97px;-webkit-text-stroke:0.9px #2a2c31;">Growth</div><svg style="left:334.8px;top:34.2px;" width="25.6" height="27.4"><use href="#flag"/></svg><div class="t " style="left:376.0px;top:35.5px;font-size:24.5px;color:#1f2430;letter-spacing:0.21px;-webkit-text-stroke:0.5px #1f2430;">1 In Progress</div><div class="tbl"><div class="thead"></div><div class="row" style="top:75px"></div><div class="row" style="top:165px"></div><div class="row" style="top:255px"></div><div class="vsep" style="top:75px;height:270px"></div><div class="vsep" style="top:16px;height:46px;background:#f8f8f9"></div><div class="thshadow"></div></div><svg style="left:62.0px;top:119.0px;" width="16" height="26"><use href="#drag"/></svg><div class="t " style="left:149.0px;top:121.5px;font-size:24px;color:#37383b;letter-spacing:1.06px;-webkit-text-stroke:0.7px #37383b;">Name</div><div class="t " style="left:907.5px;top:121.5px;font-size:24px;color:#37383b;letter-spacing:1.26px;-webkit-text-stroke:0.7px #37383b;">Owners</div><div class="t " style="left:1094.0px;top:121.5px;font-size:24px;color:#37383b;letter-spacing:0.74px;-webkit-text-stroke:0.7px #37383b;">State</div><div class="t " style="left:1460.0px;top:121.5px;font-size:24px;color:#37383b;letter-spacing:0.51px;-webkit-text-stroke:0.7px #37383b;">Progress</div><div class="t " style="left:1697.7px;top:121.5px;font-size:24px;color:#37383b;letter-spacing:1.16px;-webkit-text-stroke:0.7px #37383b;">Health</div><div class="t " style="left:2089.0px;top:121.5px;font-size:24px;color:#37383b;letter-spacing:0.99px;-webkit-text-stroke:0.7px #37383b;">Target Date</div><div class="t " style="left:2341.8px;top:121.5px;font-size:24px;color:#37383b;letter-spacing:1.17px;-webkit-text-stroke:0.7px #37383b;">Comments</div><svg style="left:62.0px;top:202.0px;" width="16" height="26"><use href="#drag"/></svg><div class="t " style="left:147.8px;top:202.5px;font-size:27.7px;color:#3b3b3d;letter-spacing:0.99px;-webkit-text-stroke:0.55px #3b3b3d;">Decrease load speeds for Bot Crusher</div><div class="abs" style="left:931.8px;top:194.8px;width:40.4px;height:40.4px;border-radius:50%;background:#222b3c"></div><div class="t " style="left:939.8px;top:207.6px;font-size:17.5px;color:#fff;-webkit-text-stroke:0.5px #fff;">TG</div><svg style="left:1118.0px;top:201.0px;" width="28" height="28"><use href="#inprog"/></svg><div class="t " style="left:1164.8px;top:203.7px;font-size:24px;color:#3b3b3d;letter-spacing:0.89px;-webkit-text-stroke:0.5px #3b3b3d;">in progress</div><div class="bar g" style="left:1460.2px;top:206.8px"><i style="width:79.5px"></i></div><div class="t " style="left:1589.8px;top:204.1px;font-size:24px;color:#3b3b3d;letter-spacing:-0.52px;-webkit-text-stroke:0.5px #3b3b3d;">67%</div><div class="pill g" style="left:1696px;top:189px;width:259px"></div><svg style="left:1713.6px;top:200.8px;" width="28.6" height="28.6"><use href="#check"/></svg><div class="t " style="left:1757.6px;top:203.7px;font-size:24px;color:#3f7a33;letter-spacing:0.35px;-webkit-text-stroke:0.6px #3f7a33;">On Track (5)</div><svg style="left:1915.0px;top:210.4px;color:#3f7a33;" width="16" height="10"><use href="#chev"/></svg><div class="t " style="left:2078.0px;top:203.7px;font-size:24px;color:#b52f3b;letter-spacing:0.15px;-webkit-text-stroke:0.5px #b52f3b;">Aug 31, 2023</div><svg style="left:2391.4px;top:203.6px;" width="26" height="23.4"><use href="#cplus"/></svg><svg style="left:2542.0px;top:212.0px;" width="26" height="6"><use href="#dots"/></svg><svg style="left:62.0px;top:292.0px;" width="16" height="26"><use href="#drag"/></svg><div class="t " style="left:147.8px;top:292.5px;font-size:27.7px;color:#3b3b3d;letter-spacing:1.31px;-webkit-text-stroke:0.55px #3b3b3d;">Interactive Account Setup for New Customers</div><svg style="left:931.8px;top:284.8px" width="40.4" height="40.4" viewBox="0 0 40 40"><defs><clipPath id="cpa"><circle cx="20" cy="20" r="20"/></clipPath></defs><g clip-path="url(#cpa)"><rect width="40" height="40" fill="#a5636b"/><path d="M0 0 H13 L5 13 L0 15 Z" fill="#7a8463"/><path d="M40 0 H27 L35 12 L40 14 Z" fill="#8b8a6a"/><g fill="#e3bcc0"><circle cx="3" cy="19" r="1.6"/><circle cx="6" cy="25" r="1.4"/><circle cx="4" cy="31" r="1.5"/><circle cx="33" cy="16" r="1.6"/><circle cx="36" cy="23" r="1.5"/><circle cx="32" cy="28" r="1.6"/><circle cx="35" cy="33" r="1.4"/><circle cx="30" cy="20" r="1.2"/><circle cx="7" cy="17" r="1.1"/><circle cx="30" cy="35" r="1.2"/></g><g fill="#5d2630"><circle cx="2" cy="24" r="1.3"/><circle cx="6" cy="29" r="1.2"/><circle cx="34" cy="19" r="1.2"/><circle cx="37" cy="28" r="1.3"/><circle cx="31" cy="24" r="1.1"/><circle cx="33" cy="31" r="1.1"/><circle cx="5" cy="21" r="1"/></g><path d="M20 0.6 Q27 1 26.6 9 Q29 18 28.4 26 L28 40 H7 L6.8 28 Q8 16 9 10 Q9.6 1 20 0.6 Z" fill="#1b2039"/><path d="M12.4 7.2 H22.2 L21.8 12.4 L17.4 16 L13.4 12.4 Z" fill="#e6d4cb"/><path d="M11.6 5 H23 V8 H11.6 Z" fill="#1b2039"/><path d="M20.4 24.4 L22 28 L26.6 26.2 L24.6 30 L28.4 32 L24.2 33 L25 37.6 L21.2 34.6 L18 38 L17.6 33.6 L12.6 33.4 L16.4 30.6 L13.6 27 L18.4 28 Z" fill="#d3524f"/><circle cx="20.6" cy="31.4" r="1.6" fill="#f0b0a0"/><rect x="19.2" y="34.4" width="3.2" height="3" fill="#f3dfe0"/></g></svg><svg style="left:1118.0px;top:291.0px;" width="28" height="28"><use href="#todo"/></svg><div class="t " style="left:1164.8px;top:293.7px;font-size:24px;color:#3b3b3d;letter-spacing:1.15px;-webkit-text-stroke:0.5px #3b3b3d;">to do</div><div class="bar" style="left:1460.2px;top:296.8px"></div><div class="t " style="left:1589.8px;top:294.1px;font-size:24px;color:#3b3b3d;letter-spacing:-1.29px;-webkit-text-stroke:0.5px #3b3b3d;">0%</div><div class="pill g" style="left:1696px;top:279px;width:259px"></div><svg style="left:1713.6px;top:290.8px;" width="28.6" height="28.6"><use href="#check"/></svg><div class="t " style="left:1757.6px;top:293.7px;font-size:24px;color:#3f7a33;letter-spacing:0.35px;-webkit-text-stroke:0.6px #3f7a33;">On Track (2)</div><svg style="left:1915.0px;top:300.4px;color:#3f7a33;" width="16" height="10"><use href="#chev"/></svg><svg style="left:2143.0px;top:292.0px;" width="26" height="26"><use href="#cal"/></svg><svg style="left:2391.4px;top:293.6px;" width="26" height="23.4"><use href="#cplus"/></svg><svg style="left:2542.0px;top:302.0px;" width="26" height="6"><use href="#dots"/></svg><svg style="left:62.0px;top:382.0px;" width="16" height="26"><use href="#drag"/></svg><div class="t " style="left:147.8px;top:382.5px;font-size:27.7px;color:#3b3b3d;letter-spacing:1.54px;-webkit-text-stroke:0.55px #3b3b3d;">Onboarding Tutorials</div><svg style="left:939.0px;top:382.4px;" width="26" height="25.6"><use href="#person"/></svg><svg style="left:1118.0px;top:381.0px;" width="28" height="28"><use href="#todo"/></svg><div class="t " style="left:1164.8px;top:383.7px;font-size:24px;color:#3b3b3d;letter-spacing:1.15px;-webkit-text-stroke:0.5px #3b3b3d;">to do</div><div class="bar" style="left:1460.2px;top:386.8px"></div><div class="t " style="left:1589.8px;top:384.1px;font-size:24px;color:#3b3b3d;letter-spacing:-1.29px;-webkit-text-stroke:0.5px #3b3b3d;">0%</div><div class="pill n" style="left:1696px;top:369px;width:188px"></div><div class="t " style="left:1709.5px;top:383.7px;font-size:24px;color:#1f2430;letter-spacing:0.98px;-webkit-text-stroke:0.6px #1f2430;">No Health</div><svg style="left:1844.6px;top:390.4px;color:#1f2430;" width="16" height="10"><use href="#chev"/></svg><svg style="left:2143.0px;top:382.0px;" width="26" height="26"><use href="#cal"/></svg><svg style="left:2391.4px;top:383.6px;" width="26" height="23.4"><use href="#cplus"/></svg><svg style="left:2542.0px;top:392.0px;" width="26" height="6"><use href="#dots"/></svg><div class="addbtn"></div><svg style="left:56.4px;top:474.2px" width="13.2" height="13.2" viewBox="0 0 13.2 13.2"><path d="M6.6 0.8 V12.4 M0.8 6.6 H12.4" stroke="#1f2430" stroke-width="3" stroke-linecap="round"/></svg><div class="t " style="left:84.3px;top:468.9px;font-size:24.5px;color:#1f2430;letter-spacing:0.33px;-webkit-text-stroke:0.8px #1f2430;">Add/Create Epics</div></div></div><div class="card" style="top:1516.5px"><div class="cin"><svg style="left:44.0px;top:42.2px;color:#5f6164;" width="16" height="10"><use href="#chev"/></svg><svg style="left:88px;top:22.6px" width="48" height="48" viewBox="0 0 48 48"><circle cx="24" cy="24" r="22" fill="#fff" stroke="#47aee9" stroke-width="4"/><g fill="#d5e8f9" stroke="#a9c9e8" stroke-width="0.7" stroke-linejoin="round"><path d="M10.4 17 H22.4 V23.4 a2 2 0 1 0 0 4 V28.3 H10.4 Z"/><path d="M10.4 28.3 H15 a2.2 2.2 0 1 0 4.2 0 H22.4 V37.7 H10.4 Z"/><path d="M22.4 28.3 H26.2 V26.6 a1.7 1.7 0 1 1 3.2 0 V28.3 H35 V37.7 H22.4 Z"/></g><path d="M-5 -4.4 H5 V-1 a1.6 1.6 0 1 1 0 3 V4.4 H1.4 a1.6 1.6 0 1 0 -3 0 H-5 Z" fill="#b4d8f2" stroke="#9cc6e8" stroke-width="0.5" transform="translate(31.2 15.8) rotate(-27)"/></svg><div class="t " style="left:160.6px;top:30.9px;font-size:32px;color:#2a2c31;letter-spacing:1.83px;-webkit-text-stroke:0.9px #2a2c31;">Integrations</div><svg style="left:407.4px;top:34.2px;" width="25.6" height="27.4"><use href="#flag"/></svg><div class="t " style="left:448.6px;top:35.5px;font-size:24.5px;color:#1f2430;letter-spacing:0.21px;-webkit-text-stroke:0.5px #1f2430;">1 In Progress</div><div class="tbl"><div class="thead"></div><div class="row" style="top:75px"></div><div class="row" style="top:165px"></div><div class="vsep" style="top:75px;height:180px"></div><div class="vsep" style="top:16px;height:46px;background:#f8f8f9"></div><div class="thshadow"></div></div><svg style="left:62.0px;top:119.0px;" width="16" height="26"><use href="#drag"/></svg><div class="t " style="left:149.0px;top:121.5px;font-size:24px;color:#37383b;letter-spacing:1.06px;-webkit-text-stroke:0.7px #37383b;">Name</div><div class="t " style="left:907.5px;top:121.5px;font-size:24px;color:#37383b;letter-spacing:1.26px;-webkit-text-stroke:0.7px #37383b;">Owners</div><div class="t " style="left:1094.0px;top:121.5px;font-size:24px;color:#37383b;letter-spacing:0.74px;-webkit-text-stroke:0.7px #37383b;">State</div><div class="t " style="left:1460.0px;top:121.5px;font-size:24px;color:#37383b;letter-spacing:0.51px;-webkit-text-stroke:0.7px #37383b;">Progress</div><div class="t " style="left:1697.7px;top:121.5px;font-size:24px;color:#37383b;letter-spacing:1.16px;-webkit-text-stroke:0.7px #37383b;">Health</div><div class="t " style="left:2089.0px;top:121.5px;font-size:24px;color:#37383b;letter-spacing:0.99px;-webkit-text-stroke:0.7px #37383b;">Target Date</div><div class="t " style="left:2341.8px;top:121.5px;font-size:24px;color:#37383b;letter-spacing:1.17px;-webkit-text-stroke:0.7px #37383b;">Comments</div><svg style="left:62.0px;top:202.0px;" width="16" height="26"><use href="#drag"/></svg><div class="t " style="left:147.8px;top:202.5px;font-size:27.7px;color:#3b3b3d;letter-spacing:1.16px;-webkit-text-stroke:0.55px #3b3b3d;">Quickstart FE/BE Integration</div><svg style="left:939.0px;top:202.4px;" width="26" height="25.6"><use href="#person"/></svg><svg style="left:1118.0px;top:201.0px;" width="28" height="28"><use href="#todo"/></svg><div class="t " style="left:1164.8px;top:203.7px;font-size:24px;color:#3b3b3d;letter-spacing:0.89px;-webkit-text-stroke:0.5px #3b3b3d;">Discovery</div><div class="bar" style="left:1460.2px;top:206.8px"></div><div class="t " style="left:1589.8px;top:204.1px;font-size:24px;color:#3b3b3d;letter-spacing:-1.29px;-webkit-text-stroke:0.5px #3b3b3d;">0%</div><div class="pill y" style="left:1696px;top:189px;width:236px"></div><svg style="left:1712.4px;top:199.8px;" width="31" height="28.6"><use href="#warn"/></svg><div class="t " style="left:1757.6px;top:203.7px;font-size:24px;color:#8a6a0c;letter-spacing:0.24px;-webkit-text-stroke:0.6px #8a6a0c;">At Risk (1)</div><svg style="left:1891.0px;top:210.4px;color:#8a6a0c;" width="16" height="10"><use href="#chev"/></svg><svg style="left:2143.0px;top:202.0px;" width="26" height="26"><use href="#cal"/></svg><svg style="left:2391.4px;top:203.6px;" width="26" height="23.4"><use href="#cplus"/></svg><svg style="left:2542.0px;top:212.0px;" width="26" height="6"><use href="#dots"/></svg><svg style="left:62.0px;top:292.0px;" width="16" height="26"><use href="#drag"/></svg><div class="t " style="left:147.8px;top:292.5px;font-size:27.7px;color:#3b3b3d;-webkit-text-stroke:0.55px #3b3b3d;"></div><svg style="left:939.0px;top:292.4px;" width="26" height="25.6"><use href="#person"/></svg><svg style="left:1118.0px;top:291.0px;" width="28" height="28"><use href="#todo"/></svg><div class="t " style="left:1164.8px;top:293.7px;font-size:24px;color:#3b3b3d;letter-spacing:1.15px;-webkit-text-stroke:0.5px #3b3b3d;">to do</div><div class="bar" style="left:1460.2px;top:296.8px"></div><div class="t " style="left:1589.8px;top:294.1px;font-size:24px;color:#3b3b3d;letter-spacing:-1.29px;-webkit-text-stroke:0.5px #3b3b3d;">0%</div><div class="pill g" style="left:1696px;top:279px;width:259px"></div><svg style="left:1713.6px;top:290.8px;" width="28.6" height="28.6"><use href="#check"/></svg><div class="t " style="left:1757.6px;top:293.7px;font-size:24px;color:#3f7a33;-webkit-text-stroke:0.6px #3f7a33;"></div><svg style="left:1915.0px;top:300.4px;color:#3f7a33;" width="16" height="10"><use href="#chev"/></svg><svg style="left:2143.0px;top:292.0px;" width="26" height="26"><use href="#cal"/></svg><svg style="left:2391.4px;top:293.6px;" width="26" height="23.4"><use href="#cplus"/></svg><svg style="left:2542.0px;top:302.0px;" width="26" height="6"><use href="#dots"/></svg></div></div></div>
</body></html>
